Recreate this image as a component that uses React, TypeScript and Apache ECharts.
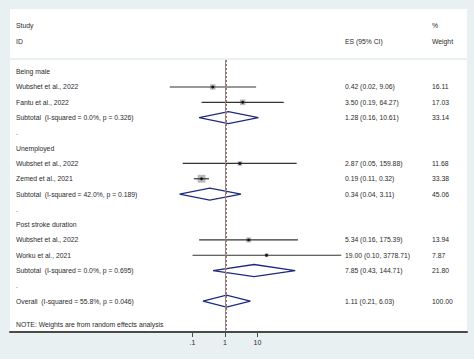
import React, { useEffect, useRef } from "react";
import * as echarts from "echarts";

// ---------- data ----------
const rowLabels = [
  "Being male",
  "Wubshet et al., 2022",
  "Fantu et al., 2022",
  "Subtotal  (I-squared = 0.0%, p = 0.326)",
  ".",
  "Unemployed",
  "Wubshet et al., 2022",
  "Zemed et al., 2021",
  "Subtotal  (I-squared = 42.0%, p = 0.189)",
  ".",
  "Post stroke duration",
  "Wubshet et al., 2022",
  "Worku et al., 2021",
  "Subtotal  (I-squared = 0.0%, p = 0.695)",
  ".",
  "Overall  (I-squared = 55.8%, p = 0.046)",
];
// study = individual estimate, pooled = diamond, other = label only
const rowKinds = [
  "head", "study", "study", "pooled", "gap",
  "head", "study", "study", "pooled", "gap",
  "head", "study", "study", "pooled", "gap",
  "pooled",
];
const esValues = [null, 0.42, 3.5, 1.28, null, null, 2.87, 0.19, 0.34, null, null, 5.34, 19.0, 7.85, null, 1.11];
const ciLower = [null, 0.02, 0.19, 0.16, null, null, 0.05, 0.11, 0.04, null, null, 0.16, 0.1, 0.43, null, 0.21];
const ciUpper = [null, 9.06, 64.27, 10.61, null, null, 159.88, 0.32, 3.11, null, null, 175.39, 3778.71, 144.71, null, 6.03];
const weights = [null, 16.11, 17.03, 33.14, null, null, 11.68, 33.38, 45.06, null, null, 13.94, 7.87, 21.8, null, 100.0];

const headerStudy = ["Study", "ID"];
const headerES = "ES (95% CI)";
const headerWeight = ["%", "Weight"];
const noteText = "NOTE: Weights are from random effects analysis";
const tickValues = [0.1, 1, 10];
const nullValue = 1;
const overallES = 1.11;

// ---------- layout ----------
const W = 474;
const H = 359;
const PLOT_LEFT = 10;
const PLOT_RIGHT = 467;
const HEADER_TOP = 9;
const HEADER_BOTTOM = 58;
const PLOT_TOP = 60;
const AXIS_Y = 332;
const ROW0_Y = 71.7;
const ROW_H = 15.294;
const X_ONE = 225;
const DECADE = 32.5;
const COL_LEFT = 16;
const COL_ES = 345;
const COL_W = 432;
const FONT = "'Liberation Sans', Arial, Helvetica, sans-serif";
const FS = 6.8;
const TXT = "#2a2a2a";
const AXIS_COLOR = "#4a4a4a";

const yMin = -(ROW0_Y - PLOT_TOP) / ROW_H;
const yMax = (AXIS_Y - ROW0_Y) / ROW_H;
const xMin = Math.pow(10, (PLOT_LEFT - X_ONE) / DECADE);
const xMax = Math.pow(10, (PLOT_RIGHT - X_ONE) / DECADE);

type TextItem = { row: number; x: number; text: string };

export default function App() {
  const ref = useRef<HTMLDivElement>(null);

  useEffect(() => {
    if (!ref.current) return;
    document.body.style.margin = "0";
    const chart = echarts.init(ref.current, undefined, { renderer: "svg" });

    // marks
    const markData: number[][] = [];
    rowKinds.forEach((k, i) => {
      if (k === "study" || k === "pooled") {
        markData.push([
          esValues[i] as number,
          i,
          ciLower[i] as number,
          ciUpper[i] as number,
          weights[i] as number,
          k === "study" ? 0 : 1,
        ]);
      }
    });

    // texts
    const texts: TextItem[] = [];
    texts.push({ row: -3, x: COL_LEFT, text: headerStudy[0] });
    texts.push({ row: -2, x: COL_LEFT, text: headerStudy[1] });
    texts.push({ row: -2, x: COL_ES, text: headerES });
    texts.push({ row: -3, x: COL_W, text: headerWeight[0] });
    texts.push({ row: -2, x: COL_W, text: headerWeight[1] });
    rowLabels.forEach((lab, i) => {
      texts.push({ row: i, x: COL_LEFT, text: lab });
      if (esValues[i] != null) {
        const es = (esValues[i] as number).toFixed(2);
        const lo = (ciLower[i] as number).toFixed(2);
        const hi = (ciUpper[i] as number).toFixed(2);
        texts.push({ row: i, x: COL_ES, text: `${es} (${lo}, ${hi})` });
        texts.push({ row: i, x: COL_W, text: (weights[i] as number).toFixed(2) });
      }
    });
    texts.push({ row: 16.55, x: COL_LEFT, text: noteText });

    const option: any = {
      animation: false,
      backgroundColor: "#e8f0f2",
      grid: [
        {
          left: PLOT_LEFT,
          right: W - PLOT_RIGHT,
          top: PLOT_TOP,
          bottom: H - AXIS_Y,
          show: true,
          backgroundColor: "#ffffff",
          borderWidth: 0,
        },
        {
          left: X_ONE - DECADE,
          right: W - (X_ONE + DECADE),
          top: PLOT_TOP,
          bottom: H - AXIS_Y,
          show: false,
        },
        {
          left: PLOT_LEFT,
          right: W - PLOT_RIGHT,
          top: HEADER_TOP,
          height: HEADER_BOTTOM - HEADER_TOP,
          show: true,
          backgroundColor: "#ffffff",
          borderWidth: 0,
        },
      ],
      xAxis: [
        {
          type: "log",
          gridIndex: 0,
          min: xMin,
          max: xMax,
          position: "bottom",
          z: 10,
          axisLine: { show: true, onZero: false, lineStyle: { color: AXIS_COLOR, width: 2 } },
          axisTick: { show: false },
          axisLabel: { show: false },
          splitLine: { show: false },
        },
        {
          type: "log",
          gridIndex: 1,
          min: tickValues[0],
          max: tickValues[tickValues.length - 1],
          position: "bottom",
          z: 10,
          axisLine: { show: false, onZero: false },
          axisTick: { show: true, length: 5, lineStyle: { color: AXIS_COLOR, width: 1 } },
          axisLabel: {
            show: true,
            fontSize: 7,
            fontFamily: FONT,
            color: TXT,
            margin: 7,
            formatter: (v: number) => {
              const r = Math.round(v * 100) / 100;
              return r < 1 ? String(r).replace(/^0/, "") : String(r);
            },
          },
          splitLine: { show: false },
        },
        { type: "value", gridIndex: 2, show: false, min: 0, max: 1 },
      ],
      yAxis: [
        { type: "value", gridIndex: 0, inverse: true, min: yMin, max: yMax, show: false },
        { type: "value", gridIndex: 1, min: 0, max: 1, show: false },
        { type: "value", gridIndex: 2, min: 0, max: 1, show: false },
      ],
      series: [
        {
          type: "scatter",
          xAxisIndex: 0,
          yAxisIndex: 0,
          data: [[nullValue, 0]],
          symbolSize: 0,
          itemStyle: { opacity: 0 },
          silent: true,
          z: 1,
          markLine: {
            silent: true,
            symbol: ["none", "none"],
            label: { show: false },
            data: [
              { xAxis: nullValue, lineStyle: { color: "#8a8a8a", type: "solid", width: 1 } },
              { xAxis: overallES, lineStyle: { color: "#b0605a", type: [2, 2], width: 1 } },
            ],
          },
        },
        {
          // axis baseline along the bottom of the plot region
          type: "line",
          xAxisIndex: 0,
          yAxisIndex: 0,
          data: [
            [xMin, yMax],
            [xMax, yMax],
          ],
          symbol: "none",
          clip: false,
          silent: true,
          z: 6,
          lineStyle: { color: AXIS_COLOR, width: 2 },
        },
        {
          type: "custom",
          xAxisIndex: 0,
          yAxisIndex: 0,
          z: 3,
          silent: true,
          encode: { x: [0, 2, 3], y: 1 },
          data: markData,
          renderItem: (params: any, api: any) => {
            const es = api.value(0);
            const row = api.value(1);
            const lo = api.value(2);
            const hi = api.value(3);
            const w = api.value(4);
            const kind = api.value(5);
            const c = api.coord([es, row]);
            const l = api.coord([lo, row]);
            const h = api.coord([hi, row]);
            if (kind === 0) {
              const s = 1.35 * Math.sqrt(w);
              return {
                type: "group",
                children: [
                  {
                    type: "rect",
                    shape: { x: c[0] - s / 2, y: c[1] - s / 2, width: s, height: s },
                    style: { fill: "#b9b9b9" },
                  },
                  {
                    type: "line",
                    shape: { x1: l[0], y1: l[1], x2: h[0], y2: h[1] },
                    style: { stroke: "#333", lineWidth: 1.2 },
                  },
                  {
                    type: "circle",
                    shape: { cx: c[0], cy: c[1], r: 1.4 },
                    style: { fill: "#111" },
                  },
                ],
              };
            }
            const hh = 6;
            return {
              type: "polygon",
              shape: {
                points: [
                  [l[0], c[1]],
                  [c[0], c[1] - hh],
                  [h[0], c[1]],
                  [c[0], c[1] + hh],
                ],
              },
              style: { fill: "none", stroke: "#1f2a7c", lineWidth: 1.3 },
            };
          },
        },
        {
          type: "custom",
          xAxisIndex: 0,
          yAxisIndex: 0,
          z: 4,
          silent: true,
          encode: { x: 0, y: 1 },
          data: texts.map((t) => [nullValue, t.row]),
          renderItem: (params: any, api: any) => {
            const t = texts[params.dataIndex];
            const p = api.coord([nullValue, api.value(1)]);
            return {
              type: "text",
              x: t.x,
              y: p[1],
              style: {
                text: t.text,
                fill: TXT,
                fontSize: FS,
                fontFamily: FONT,
                align: "left",
                verticalAlign: "middle",
              },
            };
          },
        },
      ],
    };

    chart.setOption(option);
    return () => chart.dispose();
  }, []);

  return (
    <div
      ref={ref}
      style={{ position: "fixed", left: 0, top: 0, width: W, height: H }}
    />
  );
}
